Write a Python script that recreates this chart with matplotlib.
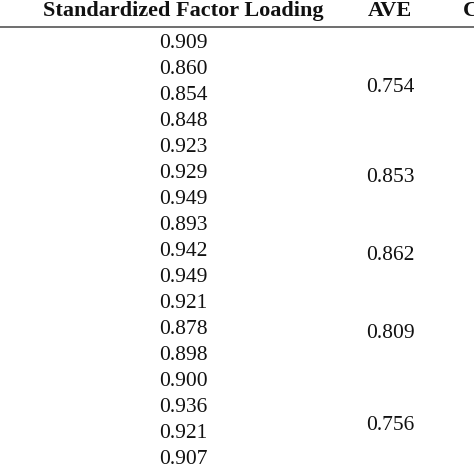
import matplotlib.pyplot as plt

loadings = ["0.909", "0.860", "0.854", "0.848", "0.923", "0.929", "0.949",
            "0.893", "0.942", "0.949", "0.921", "0.878", "0.898",
            "0.900", "0.936", "0.921", "0.907"]
group_sizes = [4, 3, 3, 3, 4]
ave = ["0.754", "0.853", "0.862", "0.809", "0.756"]
headers = ["Standardized Factor Loading", "AVE", "C"]

fig = plt.figure(figsize=(4.74, 4.74), dpi=100)
ax = fig.add_axes([0, 0, 1, 1])
ax.set_xlim(0, 474)
ax.set_ylim(474, 0)
ax.axis("off")

font = dict(family="Liberation Serif", fontsize=15.5, color="#111111")
hfont = dict(font, fontsize=16, fontweight="bold")
ax.text(183, 11, headers[0], ha="center", va="center", **hfont)
ax.text(390, 11, headers[1], ha="center", va="center", **hfont)
# last header is cropped at the right edge in the reference
ax.text(463, 11, headers[2], ha="left", va="center", **hfont)
ax.axhline(27, color="#555555", lw=1.2)

y0, step = 43, 26
for i, v in enumerate(loadings):
    ax.text(183, y0 + i * step, v, ha="center", va="center", **font)

start = 0
for n, a in zip(group_sizes, ave):
    yc = y0 + (start + (n - 1) / 2) * step + 5
    ax.text(390, yc, a, ha="center", va="center", **font)
    start += n

fig.savefig("out.png", dpi=100)
